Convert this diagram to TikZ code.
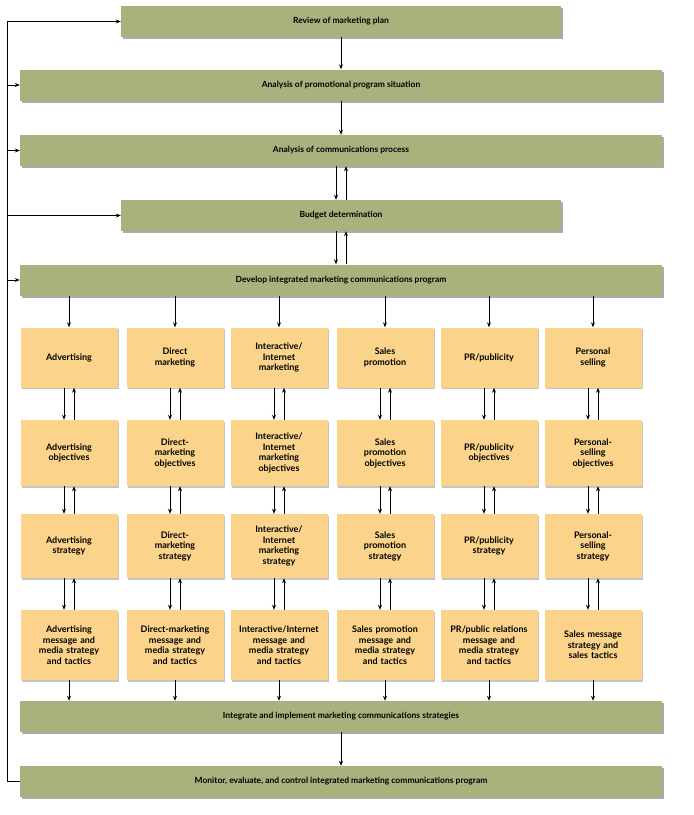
\documentclass[tikz,border=0pt]{standalone}
\usepackage{fontspec}
\setmainfont{Lato}
\usetikzlibrary{shadows,arrows.meta}
\definecolor{bar}{HTML}{A9B17D}
\definecolor{box}{HTML}{FBD38A}
\tikzset{
  gbar/.style={fill=bar,draw=none,minimum height=31pt,font=\bfseries\fontsize{8.5}{10}\selectfont,drop shadow={shadow xshift=1.5pt,shadow yshift=-2pt,fill=black!55,opacity=0.6}},
  obox/.style={fill=box,draw=none,inner xsep=2pt,minimum width=97pt,text width=93pt,align=center,font=\bfseries\fontsize{9}{10.5}\selectfont,drop shadow={shadow xshift=1.5pt,shadow yshift=-1.5pt,fill=black!45,opacity=0.5}},
  arr/.style={-{Stealth[length=5pt,width=4pt]},line width=0.9pt},
}
\begin{document}
\begin{tikzpicture}[x=1pt,y=-1pt]
\useasboundingbox (0,0) rectangle (694,815);
\fill[white] (0,0) rectangle (694,815);
% green bars
\node[gbar,minimum width=440pt] (rev) at (341,21.5) {Review of marketing plan};
\node[gbar,minimum width=642pt] (pro) at (341,85) {Analysis of promotional program situation};
\node[gbar,minimum width=642pt] (com) at (341,150.5) {Analysis of communications process};
\node[gbar,minimum width=440pt] (bud) at (341,215.5) {Budget determination};
\node[gbar,minimum width=642pt] (dev) at (341,280) {Develop integrated marketing communications program};
\node[gbar,minimum width=642pt] (int) at (341,716.5) {Integrate and implement marketing communications strategies};
\node[gbar,minimum width=642pt] (mon) at (341,781.5) {Monitor, evaluate, and control integrated marketing communications program};
% center arrows
\draw[arr] (rev.south) -- (pro.north);
\draw[arr] (pro.south) -- (com.north);
\draw[arr] ([xshift=-5pt]com.south) -- ([xshift=-5pt]bud.north);
\draw[arr] ([xshift=5pt]bud.north) -- ([xshift=5pt]com.south);
\draw[arr] ([xshift=-5pt]bud.south) -- ([xshift=-5pt]dev.north);
\draw[arr] ([xshift=5pt]dev.north) -- ([xshift=5pt]bud.south);
\draw[arr] (int.south) -- (mon.north);
% feedback loop
\coordinate (lt) at (7,21.5);
\coordinate (lb) at (7,781.5);
\draw[line width=0.9pt] (mon.west) -- (lb) -- (lt);
\draw[arr] (lt) -- (rev.west);
\draw[arr] (7,85) -- (pro.west);
\draw[arr] (7,150.5) -- (com.west);
\draw[arr] (7,215.5) -- (bud.west);
\draw[arr] (7,280) -- (dev.west);
% columns
\foreach \i/\x/\a/\b/\c/\d in {
 1/69/{Advertising}/{Advertising\\objectives}/{Advertising\\strategy}/{Advertising\\message and\\media strategy\\and tactics},
 2/175/{Direct\\marketing}/{Direct-\\marketing\\objectives}/{Direct-\\marketing\\strategy}/{Direct-marketing\\message and\\media strategy\\and tactics},
 3/279/{Interactive/\\Internet\\marketing}/{Interactive/\\Internet\\marketing\\objectives}/{Interactive/\\Internet\\marketing\\strategy}/{Interactive/Internet\\message and\\media strategy\\and tactics},
 4/385/{Sales\\promotion}/{Sales\\promotion\\objectives}/{Sales\\promotion\\strategy}/{Sales promotion\\message and\\media strategy\\and tactics},
 5/489/{PR/publicity}/{PR/publicity\\objectives}/{PR/publicity\\strategy}/{PR/public relations\\message and\\media strategy\\and tactics},
 6/593/{Personal\\selling}/{Personal-\\selling\\objectives}/{Personal-\\selling\\strategy}/{Sales message\\strategy and\\sales tactics}}
{
 \node[obox,minimum height=60pt] (a\i) at (\x,357.5) {\a};
 \node[obox,minimum height=66pt] (b\i) at (\x,453) {\b};
 \node[obox,minimum height=64pt] (c\i) at (\x,546) {\c};
 \node[obox,minimum height=70pt] (d\i) at (\x,645) {\d};
 \draw[arr] (a\i.north |- dev.south) -- (a\i.north);
 \draw[arr] ([xshift=-5pt]a\i.south) -- ([xshift=-5pt]b\i.north);
 \draw[arr] ([xshift=5pt]b\i.north) -- ([xshift=5pt]a\i.south);
 \draw[arr] ([xshift=-5pt]b\i.south) -- ([xshift=-5pt]c\i.north);
 \draw[arr] ([xshift=5pt]c\i.north) -- ([xshift=5pt]b\i.south);
 \draw[arr] ([xshift=-5pt]c\i.south) -- ([xshift=-5pt]d\i.north);
 \draw[arr] ([xshift=5pt]d\i.north) -- ([xshift=5pt]c\i.south);
 \draw[arr] (d\i.south) -- (d\i.south |- int.north);
}
\end{tikzpicture}
\end{document}
